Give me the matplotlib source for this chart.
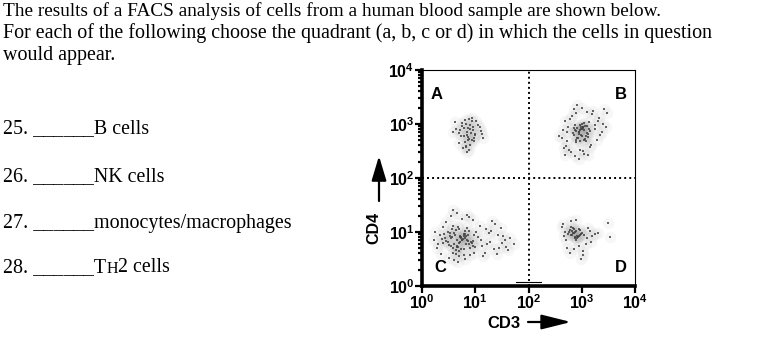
import numpy as np
import matplotlib
matplotlib.use("Agg")
import matplotlib.pyplot as plt

plt.rcParams['mathtext.fontset'] = 'custom'
plt.rcParams['mathtext.bf'] = 'Liberation Sans:bold'
plt.rcParams['mathtext.rm'] = 'Liberation Sans:bold'

W, H = 771, 339

# question text
intro_lines = [
    "The results of a FACS analysis of cells from a human blood sample are shown below.",
    "For each of the following choose the quadrant (a, b, c or d) in which the cells in question",
    "would appear.",
]
question_nums = ["25.", "26.", "27.", "28."]
question_items = ["B cells", "NK cells", "monocytes/macrophages", "TH2 cells"]

# FACS clusters, log10 units
A_logx = [0.85, 0.90, 0.78, 0.95, 0.82, 0.88, 0.72, 1.00, 0.93, 0.80,
          0.86, 0.97, 0.75, 0.91, 0.84, 1.05, 0.69, 0.88, 0.94, 0.79,
          1.10, 0.83, 0.98, 0.76, 0.89, 1.02, 0.64, 0.87, 0.92, 0.81,
          1.15, 0.70, 0.96, 0.85, 0.58, 1.08, 0.90, 0.77, 0.99, 0.86,
          0.62, 1.12, 0.83, 0.94, 0.73]
A_logy = [2.85, 2.90, 2.78, 2.95, 3.00, 2.72, 2.88, 2.82, 3.05, 2.66,
          2.93, 2.75, 3.02, 2.62, 2.80, 2.98, 2.84, 3.10, 2.70, 2.92,
          2.87, 2.58, 2.68, 2.96, 2.52, 3.06, 2.91, 2.76, 2.83, 3.08,
          2.74, 2.64, 2.89, 2.48, 2.86, 2.94, 2.99, 2.56, 2.79, 2.70,
          3.04, 2.81, 2.60, 3.12, 2.77]

B_logx = [2.95, 3.02, 3.08, 2.90, 2.98, 3.05, 3.12, 2.88, 2.93, 3.00,
          3.10, 2.85, 2.97, 3.04, 3.15, 2.92, 2.99, 3.07, 2.87, 3.01,
          3.11, 2.94, 3.03, 2.89, 2.96, 3.09, 3.14, 2.91, 3.06, 2.84,
          3.00, 2.97, 3.13, 2.86, 3.05, 2.95, 3.02, 2.90, 3.08, 2.98,
          2.62, 2.70, 2.75, 2.68, 2.80, 2.73, 2.66, 2.78, 3.25, 3.30,
          3.20, 3.35, 3.28, 3.40, 3.22, 3.45, 2.85, 2.92, 3.00, 3.05,
          2.88, 2.96, 3.10, 3.15, 2.72, 2.82, 3.18, 3.32, 2.64, 2.58,
          3.38, 3.48, 2.95, 3.02, 2.90, 3.12, 2.76, 3.24, 2.69, 3.42]
B_logy = [2.85, 2.92, 2.78, 2.70, 2.95, 2.88, 2.82, 2.98, 2.75, 2.90,
          2.96, 2.80, 2.68, 3.02, 2.87, 2.93, 2.79, 2.72, 2.89, 3.00,
          2.76, 2.86, 2.94, 2.66, 2.99, 2.83, 2.91, 2.74, 2.97, 2.84,
          2.77, 2.88, 3.04, 2.92, 2.71, 2.81, 2.95, 2.87, 2.69, 2.90,
          2.75, 2.60, 2.95, 3.05, 2.48, 2.85, 2.55, 3.10, 2.90, 3.05,
          3.18, 2.80, 2.70, 3.00, 3.25, 2.95, 3.28, 3.35, 3.30, 2.45,
          2.40, 2.52, 3.22, 2.58, 2.68, 3.15, 2.62, 3.12, 2.88, 2.78,
          2.85, 3.20, 2.35, 2.50, 3.20, 2.42, 2.52, 2.98, 2.42, 3.28]

C_logx = [0.55, 0.62, 0.70, 0.78, 0.85, 0.48, 0.66, 0.74, 0.81, 0.92,
          0.58, 0.69, 0.76, 0.88, 0.52, 0.64, 0.72, 0.80, 0.95, 0.45,
          0.60, 0.68, 0.77, 0.84, 0.40, 0.57, 0.73, 0.86, 0.98, 0.50,
          0.63, 0.71, 0.79, 0.90, 0.44, 0.59, 0.67, 0.75, 0.83, 0.53,
          0.65, 0.82, 0.93, 0.38, 0.56, 0.70, 0.87, 0.61, 0.74, 0.49,
          0.78, 0.66, 0.89, 0.54, 0.72, 0.96, 0.42, 0.63, 0.80, 0.58,
          0.22, 0.28, 0.33, 0.25, 0.30, 1.05, 1.12, 1.20, 1.28, 1.35,
          1.42, 1.50, 1.58, 1.65, 1.72, 1.08, 1.18, 1.25, 1.32, 1.40,
          1.48, 1.55, 1.62, 1.15, 1.30, 0.55, 0.65, 0.75, 0.85, 0.95,
          0.50, 0.60, 0.70, 0.80, 0.90, 1.00, 0.45, 0.68, 0.88, 1.02,
          1.22, 1.38, 1.52, 0.35, 0.58, 0.78, 1.10, 1.45, 0.40, 0.98]
C_logy = [0.88, 0.95, 0.80, 0.92, 0.85, 1.00, 0.74, 0.89, 0.97, 0.82,
          0.70, 1.05, 0.86, 0.78, 0.93, 0.66, 0.90, 1.02, 0.75, 0.84,
          0.98, 0.72, 0.87, 1.08, 0.79, 0.91, 0.68, 0.83, 0.94, 0.76,
          1.03, 0.81, 0.96, 0.71, 0.89, 0.62, 1.10, 0.85, 0.77, 0.99,
          0.73, 0.92, 0.80, 0.87, 1.06, 0.64, 0.95, 0.78, 0.90, 0.82,
          0.69, 0.86, 1.01, 0.75, 0.93, 0.84, 0.97, 0.60, 0.88, 1.12,
          0.85, 0.70, 0.95, 1.00, 0.78, 0.90, 0.75, 1.05, 0.82, 0.68,
          0.95, 0.80, 0.72, 0.88, 0.78, 1.12, 0.62, 0.98, 1.20, 0.60,
          1.08, 0.85, 0.66, 0.55, 1.02, 1.30, 1.35, 1.25, 1.32, 1.22,
          0.52, 0.48, 0.55, 0.50, 0.58, 0.72, 1.18, 0.45, 1.28, 1.00,
          0.78, 1.15, 0.92, 0.60, 1.40, 0.58, 0.86, 0.70, 1.10, 0.62]

D_logx = [2.85, 2.90, 2.80, 2.95, 2.88, 2.76, 2.92, 2.83, 2.98, 2.87,
          2.78, 2.94, 2.82, 2.89, 3.00, 2.74, 2.86, 2.93, 2.81, 2.97,
          2.91, 2.84, 2.79, 2.96, 2.88, 2.65, 2.70, 2.68, 3.05, 3.10,
          3.15, 3.08, 3.20, 3.25, 3.12, 2.72, 2.78, 2.85, 2.95, 3.02,
          2.80, 2.90, 3.18, 3.30, 2.67, 3.03, 2.98, 3.49, 3.53, 2.63]
D_logy = [0.98, 1.02, 0.95, 1.05, 0.90, 1.00, 0.93, 1.08, 0.97, 0.88,
          1.04, 0.92, 1.01, 0.86, 0.99, 0.96, 1.06, 0.91, 0.94, 1.03,
          0.89, 0.98, 1.10, 0.95, 1.00, 1.15, 0.85, 1.00, 0.95, 0.88,
          1.02, 0.78, 0.92, 0.96, 1.08, 0.70, 0.62, 0.68, 0.75, 0.58,
          1.20, 1.22, 0.82, 0.98, 0.92, 0.65, 0.50, 1.17, 0.91, 1.10]

quadrants = ["A", "B", "C", "D"]
decades = [0, 1, 2, 3, 4]


def px(x, y):
    return x / W, 1 - y / H


fig = plt.figure(figsize=(W / 100, H / 100), dpi=100)
bg = fig.add_axes([0, 0, 1, 1])
bg.set_xlim(0, 1)
bg.set_ylim(0, 1)
bg.axis('off')

serif = dict(family='Liberation Serif', va='baseline', ha='left')
for line, ybase, fs in zip(intro_lines, [16, 38, 60], [13.9, 14.4, 14.4]):
    bg.text(*px(3, ybase), line, fontsize=fs, **serif)

for num, item, ybase in zip(question_nums, question_items, [133, 181, 228, 272]):
    if item.startswith("TH"):
        t1 = bg.text(*px(3, ybase), num + " ______T", fontsize=14.4, **serif)
        t2 = bg.annotate("H", xy=(1, 0), xycoords=t1, va='bottom', ha='left',
                         family='Liberation Serif', fontsize=11.5)
        bg.annotate(item[2:], xy=(1, 0), xycoords=t2, va='bottom', ha='left',
                    family='Liberation Serif', fontsize=14.4)
    else:
        bg.text(*px(3, ybase), num + " ______" + item, fontsize=14.4, **serif)

# FACS plot
ax = fig.add_axes([422 / W, 1 - 286 / H, 213 / W, 216 / H])
ax.set_xscale('log')
ax.set_yscale('log')
ax.set_xlim(1, 1e4)
ax.set_ylim(1, 1e4)

for lx, ly in [(A_logx, A_logy), (B_logx, B_logy), (C_logx, C_logy), (D_logx, D_logy)]:
    xs = 10 ** np.array(lx)
    ys = 10 ** np.array(ly)
    ax.scatter(xs, ys, s=70, color='0.5', alpha=0.06, linewidths=0)
    ax.scatter(xs, ys, s=4, marker='s', color='0.25', alpha=0.8, linewidths=0)

ax.axvline(100, color='k', lw=1.4, ls=(0, (1, 1.6)))
ax.axhline(100, color='k', lw=1.4, ls=(0, (1, 1.6)))
ax.plot([0.44, 0.56], [0.02, 0.02], color='k', lw=0.8, transform=ax.transAxes, clip_on=False)

for spine in ['left', 'bottom']:
    ax.spines[spine].set_linewidth(2.6)
for spine in ['top', 'right']:
    ax.spines[spine].set_linewidth(0.8)

ticks = [10 ** d for d in decades]
labels = [r'$\mathbf{10^{%d}}$' % d for d in decades]
ax.set_xticks(ticks)
ax.set_xticklabels(labels)
ax.set_yticks(ticks)
ax.set_yticklabels(labels)
ax.tick_params(which='major', direction='out', length=5, width=1.6, labelsize=11.5, pad=0.5)
ax.tick_params(which='minor', direction='out', length=3, width=1.6)

qpos = [(0.07, 0.885), (0.935, 0.885), (0.085, 0.085), (0.935, 0.085)]
for q, (qx, qy) in zip(quadrants, qpos):
    ax.text(qx, qy, q, transform=ax.transAxes, ha='center', va='center',
            family='Liberation Sans', fontweight='bold', fontsize=12)

# axis labels with arrows
bg.text(*px(374, 228), "CD4", rotation=90, ha='center', va='center',
        family='Liberation Sans', fontweight='bold', fontsize=11.5)
bg.text(*px(504, 323), "CD3", ha='center', va='center',
        family='Liberation Sans', fontweight='bold', fontsize=12)
bg.annotate('', xy=px(379, 156), xytext=px(379, 201),
            arrowprops=dict(arrowstyle='-|>,head_width=0.45,head_length=1.5',
                            lw=1.6, color='k', mutation_scale=10, shrinkA=0, shrinkB=0))
bg.annotate('', xy=px(571, 322), xytext=px(528, 322),
            arrowprops=dict(arrowstyle='-|>,head_width=0.45,head_length=1.8',
                            lw=1.6, color='k', mutation_scale=10, shrinkA=0, shrinkB=0))

fig.savefig('out.png', dpi=100)
